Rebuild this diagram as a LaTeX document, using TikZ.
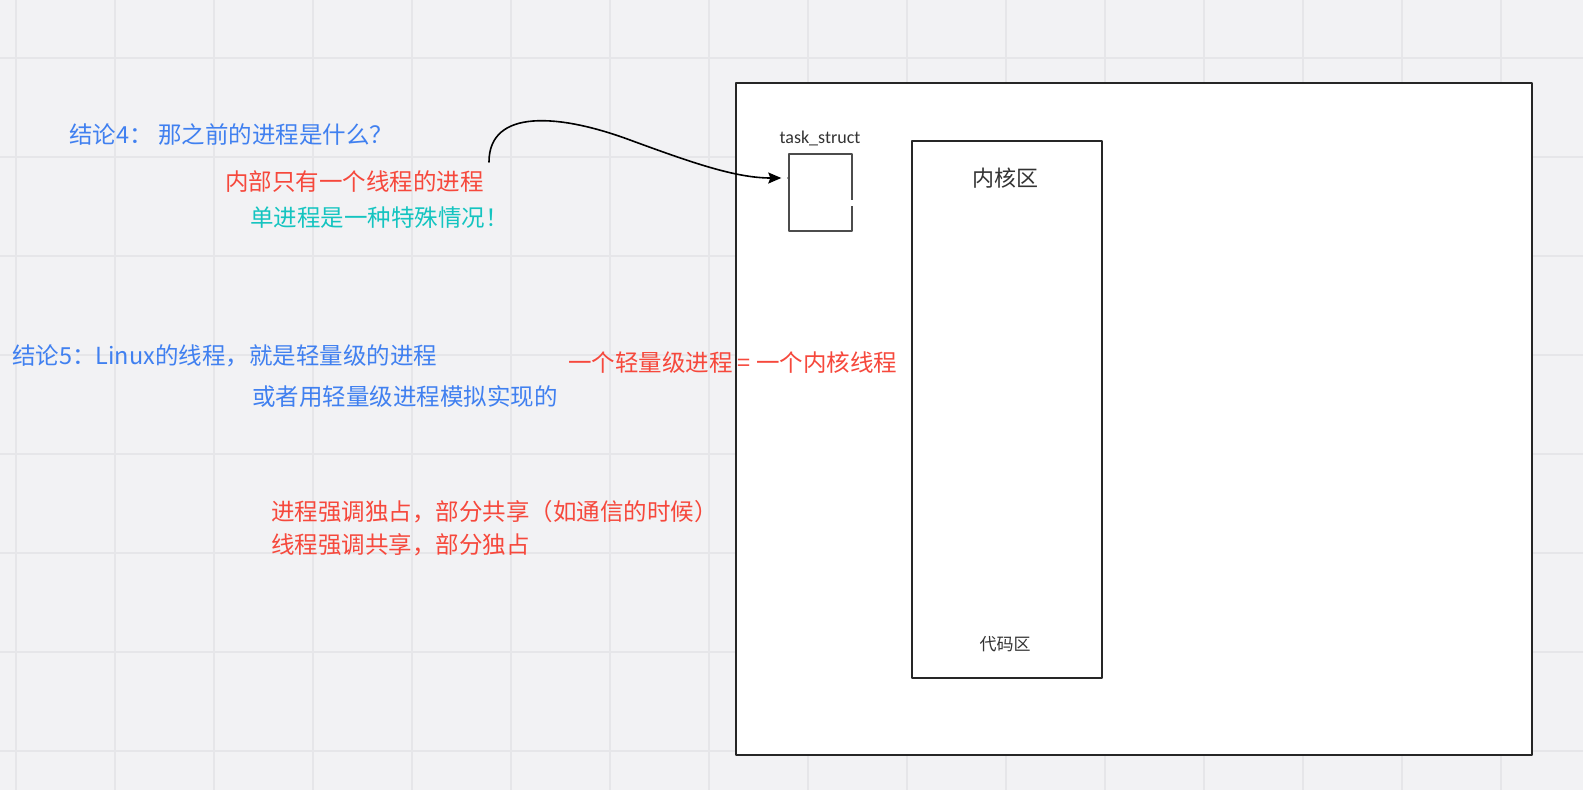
\documentclass[tikz,border=0pt]{standalone}
\usepackage{fontspec}
\setmainfont{Noto Sans CJK SC}
\newfontfamily\labelfont{Carlito}
\usetikzlibrary{arrows.meta,calc}
\definecolor{bgcol}{RGB}{242,242,244}
\definecolor{gridcol}{RGB}{230,230,233}
\definecolor{notblue}{RGB}{64,128,240}
\definecolor{notred}{RGB}{246,72,60}
\definecolor{notteal}{RGB}{20,196,192}
\definecolor{boxtext}{RGB}{51,51,51}

\begin{document}
\begin{tikzpicture}[x=1pt,y=-1pt,line join=round,line cap=round,>={Stealth[length=13pt,width=11pt,inset=2pt]},
  gridline/.style={gridcol,line width=1.5pt,line cap=butt},
  note/.style={anchor=west,inner sep=0pt,font=\fontsize{23.5}{28}\selectfont},
  region/.style={draw=black!85,fill=white,inner sep=0pt},
  boxlabel/.style={inner sep=0pt,text=boxtext}]
\useasboundingbox[fill=bgcol] (0,0) rectangle (1583,790);
% grid
\foreach \gx in {0,...,15}{\draw[gridline] ({16+99*\gx},0) -- ({16+99*\gx},790);}
\foreach \gy in {0,...,7}{\draw[gridline] (0,{58+99*\gy}) -- (1583,{58+99*\gy});}
% address space
\node[region,line width=2.2pt,minimum width=796,minimum height=672] (space) at (1134,419) {};
\node[region,line width=2pt,minimum width=190,minimum height=537] (kernel) at (1007,409.5) {};
\node[boxlabel,font=\fontsize{22}{26}\selectfont] (kernlabel) at (1005,178) {内核区};
\node[boxlabel,font=\fontsize{17}{20}\selectfont] (codelabel) at (1005,644) {代码区};
\node[region,draw=black!70,line width=1.4pt,minimum width=63,minimum height=77] (task) at (820.5,192.5) {};
\draw[white,line width=2pt,line cap=butt] (852,200) -- (852,206);
\node[boxlabel,font=\labelfont\fontsize{18}{21}\selectfont] (tasklabel) at (820,138) {task\_struct};
% notes
\node[note,text=notblue] (c4) at (69,135) {结论4： 那之前的进程是什么？};
\node[note,text=notred] (onethread) at (225,182) {内部只有一个线程的进程};
\node[note,text=notteal] (special) at (250,218) {单进程是一种特殊情况！};
\node[note,text=notblue] (c5) at (12,356) {结论5：Linux的线程，就是轻量级的进程};
\node[note,text=notblue] (c5b) at (252,397) {或者用轻量级进程模拟实现的};
\node[note,text=notred] (equal) at (568,363) {一个轻量级进程 = 一个内核线程};
\node[note,text=notred] (proc) at (271,512) {进程强调独占，部分共享（如通信的时候）};
\node[note,text=notred] (thread) at (271,545) {线程强调共享，部分独占};
% arrow
\coordinate (from) at (489,162);
\draw[->,line width=1.6pt] (from) .. controls (489,108) and (560,114) .. (630,140)
  .. controls (690,162) and (735,178) .. ([xshift=-7pt,yshift=14.5pt]task.west);
\fill[black!70] ([yshift=14.5pt]task.west) circle (1.2pt);
\end{tikzpicture}
\end{document}
